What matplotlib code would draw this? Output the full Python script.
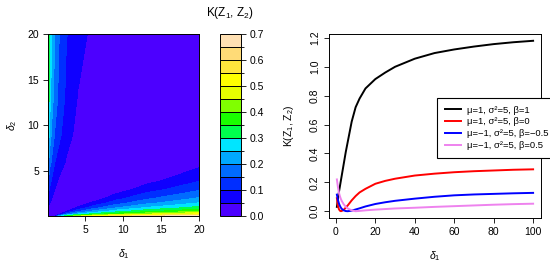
import numpy as np
import matplotlib
matplotlib.use("Agg")
import matplotlib.pyplot as plt
from matplotlib.colors import ListedColormap, BoundaryNorm

plt.rcParams['font.family'] = ['Liberation Sans', 'DejaVu Sans']
plt.rcParams['mathtext.fontset'] = 'custom'
plt.rcParams['mathtext.rm'] = 'Liberation Sans'
plt.rcParams['mathtext.it'] = 'Liberation Sans:italic'
plt.rcParams['font.size'] = 7.5

# left panel: K(Z1, Z2), rows = delta2, cols = delta1
delta1_grid = [0.1, 0.3, 0.6, 1, 1.5, 2.5, 4, 6, 9, 13, 20]
delta2_grid = [0.1, 0.3, 0.6, 1, 1.5, 2, 3, 4, 6, 9, 13, 20]
k_grid = [
    [0.01, 0.01, 0.01, 0.027, 0.21, 0.339, 0.432, 0.502, 0.569, 0.627, 0.693],
    [0.01, 0.01, 0.01, 0.01, 0.032, 0.161, 0.254, 0.324, 0.391, 0.449, 0.515],
    [0.01, 0.01, 0.01, 0.01, 0.01, 0.049, 0.142, 0.212, 0.279, 0.337, 0.403],
    [0.04, 0.025, 0.012, 0.01, 0.01, 0.01, 0.059, 0.129, 0.196, 0.254, 0.320],
    [0.065, 0.05, 0.03, 0.015, 0.01, 0.01, 0.01, 0.063, 0.130, 0.188, 0.254],
    [0.09, 0.07, 0.05, 0.03, 0.018, 0.01, 0.01, 0.017, 0.084, 0.142, 0.208],
    [0.12, 0.095, 0.072, 0.05, 0.035, 0.015, 0.01, 0.01, 0.018, 0.076, 0.142],
    [0.16, 0.12, 0.095, 0.065, 0.045, 0.02, 0.01, 0.01, 0.01, 0.029, 0.095],
    [0.23, 0.17, 0.14, 0.10, 0.08, 0.045, 0.015, 0.01, 0.01, 0.01, 0.030],
    [0.30, 0.235, 0.19, 0.145, 0.115, 0.07, 0.035, 0.012, 0.01, 0.01, 0.01],
    [0.355, 0.28, 0.22, 0.18, 0.14, 0.09, 0.048, 0.02, 0.01, 0.01, 0.01],
    [0.40, 0.31, 0.25, 0.20, 0.155, 0.103, 0.068, 0.04, 0.01, 0.01, 0.01],
]

# right panel: K(Z1, Z2) against delta1
delta1_line = [0.5, 1, 1.5, 2, 2.5, 3, 4, 5, 6, 8, 10, 12, 15, 20, 25, 30, 40, 50, 60, 70, 80, 90, 100]
k_black = [0.03, 0.08, 0.13, 0.17, 0.21, 0.25, 0.33, 0.41, 0.48, 0.62, 0.72, 0.78, 0.85, 0.915, 0.96, 1.0, 1.056, 1.095, 1.12, 1.14, 1.157, 1.17, 1.18]
k_red = [0.09, 0.04, 0.015, 0.004, 0.0, 0.002, 0.01, 0.025, 0.04, 0.075, 0.105, 0.13, 0.155, 0.19, 0.21, 0.225, 0.247, 0.26, 0.27, 0.277, 0.282, 0.287, 0.29]
k_blue = [0.115, 0.08, 0.055, 0.038, 0.025, 0.016, 0.006, 0.001, 0.0, 0.004, 0.012, 0.02, 0.033, 0.05, 0.062, 0.072, 0.087, 0.1, 0.11, 0.116, 0.12, 0.124, 0.127]
k_violet = [0.22, 0.17, 0.13, 0.105, 0.085, 0.07, 0.047, 0.031, 0.019, 0.006, 0.0, 0.002, 0.006, 0.011, 0.015, 0.019, 0.024, 0.03, 0.035, 0.04, 0.045, 0.049, 0.052]
legend_labels = ['μ=1, σ²=5, β=1', 'μ=1, σ²=5, β=0', 'μ=−1, σ²=5, β=−0.5', 'μ=−1, σ²=5, β=0.5']

# R topo.colors(14)
topo = ['#4C00FF', '#0F00FF', '#002EFF', '#006BFF', '#00A8FF', '#00E5FF', '#00FF4D',
        '#1AFF00', '#80FF00', '#E6FF00', '#FFFF00', '#FFE53C', '#FFDB77', '#FFE0B3']
levels = np.arange(0, 0.701, 0.05)
cmap = ListedColormap(topo)
norm = BoundaryNorm(levels, cmap.N)

fig = plt.figure(figsize=(5.5, 2.62), dpi=100)

ax1 = fig.add_axes([48 / 550, 46 / 262, 151 / 550, 182 / 262])
cs = ax1.contourf(delta1_grid, delta2_grid, np.array(k_grid), levels=levels, cmap=cmap, norm=norm)
ax1.set_xticks([5, 10, 15, 20])
ax1.set_yticks([5, 10, 15, 20])
ax1.set_xlabel(r'$\delta_1$', labelpad=9)
ax1.set_ylabel(r'$\delta_2$', labelpad=6)
ax1.tick_params(direction='out', length=3.5, width=0.6, pad=3)

cax = fig.add_axes([220 / 550, 46 / 262, 21 / 550, 182 / 262])
cb = fig.colorbar(cs, cax=cax, drawedges=True, ticks=levels[::2])
cb.ax.set_yticklabels(['%.1f' % v for v in levels[::2]])
cb.outline.set_linewidth(0.7)
cb.dividers.set_linewidth(0.7)
cb.ax.tick_params(direction='out', length=3.5, width=0.6, pad=3)
fig.text(230 / 550, 1 - 13 / 262, 'K(Z$_1$, Z$_2$)', ha='center', va='center', fontsize=8.5)

ax2 = fig.add_axes([329 / 550, 44 / 262, 212 / 550, 184 / 262])
ax2.plot(delta1_line, k_black, color='black', lw=1.4, label=legend_labels[0])
ax2.plot(delta1_line, k_red, color='red', lw=1.4, label=legend_labels[1])
ax2.plot(delta1_line, k_blue, color='blue', lw=1.4, label=legend_labels[2])
ax2.plot(delta1_line, k_violet, color='violet', lw=1.4, label=legend_labels[3])
ax2.set_xlim(-3.5, 104)
ax2.set_ylim(-0.047, 1.227)
ax2.set_xticks([0, 20, 40, 60, 80, 100])
ax2.set_yticks([0.0, 0.2, 0.4, 0.6, 0.8, 1.0, 1.2])
ax2.set_yticklabels(['0.0', '0.2', '0.4', '0.6', '0.8', '1.0', '1.2'], rotation=90, va='center')
ax2.tick_params(direction='out', length=3.5, width=0.6, pad=3)
ax2.set_xlabel(r'$\delta_1$', labelpad=9)
ax2.set_ylabel('K(Z$_1$, Z$_2$)', labelpad=10)
for ax in (ax1, ax2):
    for s in ax.spines.values():
        s.set_linewidth(0.7)

leg = fig.legend(loc='upper left', bbox_to_anchor=(437 / 550, 1 - 98 / 262), fontsize=6.8,
                 fancybox=False, edgecolor='black', framealpha=1, handlelength=1.7,
                 borderpad=0.8, borderaxespad=0, labelspacing=0.3, handletextpad=0.7)
leg.get_frame().set_linewidth(0.8)

fig.savefig('out.png', dpi=100)
